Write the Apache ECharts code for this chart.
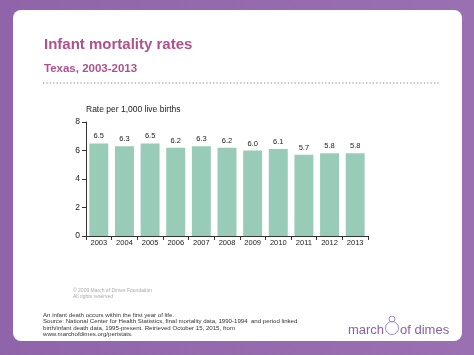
<!DOCTYPE html>
<html>
<head>
<meta charset="utf-8">
<script src="https://cdn.jsdelivr.net/npm/echarts@6/dist/echarts.min.js"></script>
<style>
html,body{margin:0;padding:0;background:#9568ad;}
#c{width:474px;height:355px;}
</style>
</head>
<body>
<div id="c"></div>
<script>
const years = ['2003','2004','2005','2006','2007','2008','2009','2010','2011','2012','2013'];
const rates = [6.5, 6.3, 6.5, 6.2, 6.3, 6.2, 6.0, 6.1, 5.7, 5.8, 5.8];
const yTicks = [0, 2, 4, 6, 8];
const titleText = 'Infant mortality rates';
const subtitleText = 'Texas, 2003-2013';
const axisName = 'Rate per 1,000 live births';
const footerLines = [
  'An infant death occurs within the first year of life.',
  'Source: National Center for Health Statistics, final mortality data, 1990-1994  and period linked',
  'birth/infant death data, 1995-present. Retrieved October 15, 2015, from',
  'www.marchofdimes.org/peristats.'
];

const chart = echarts.init(document.getElementById('c'), null, {renderer: 'canvas'});
const font = 'Liberation Sans, Arial, sans-serif';
const pink = '#b0508f';
const purple = '#8d5cab';

chart.setOption({
  backgroundColor: {
    type: 'linear', x: 0, y: 0, x2: 1, y2: 0,
    colorStops: [{offset: 0, color: '#9064a9'}, {offset: 1, color: '#9a70b2'}]
  },
  textStyle: {fontFamily: font},
  animation: false,
  graphic: [
    {type: 'rect', z: -10, shape: {x: 13, y: 10, width: 449, height: 331, r: 8}, style: {fill: '#ffffff'}},
    {type: 'text', left: 44, top: 37, style: {text: titleText, fill: pink, font: 'bold 15px ' + font}},
    {type: 'text', left: 44, top: 63, style: {text: subtitleText, fill: pink, font: 'bold 11.5px ' + font}},
    {type: 'line', shape: {x1: 43, y1: 83, x2: 439, y2: 83}, style: {stroke: '#b0b0b0', lineWidth: 1.3, lineDash: [1.3, 2.1]}},
    {type: 'text', left: 73, top: 288, style: {text: '\u00a9 2009 March of Dimes Foundation\nAll rights reserved', fill: '#aaaaaa', font: '5px ' + font, lineHeight: 5.5}},
    {type: 'text', left: 43, top: 312, style: {text: footerLines.join('\n'), fill: '#333333', font: '6.1px ' + font, lineHeight: 6.5}},
    {type: 'text', x: 384, y: 330, style: {text: 'march', fill: purple, font: '13px ' + font, align: 'right', verticalAlign: 'middle'}},
    {type: 'circle', shape: {cx: 392, cy: 328, r: 6.5}, style: {fill: 'none', stroke: '#a98bc2', lineWidth: 1}},
    {type: 'circle', shape: {cx: 392, cy: 319, r: 3}, style: {fill: 'none', stroke: '#a98bc2', lineWidth: 1}},
    {type: 'text', x: 400, y: 330, style: {text: 'of dimes', fill: purple, font: '13px ' + font, align: 'left', verticalAlign: 'middle'}}
  ],
  grid: {left: 86, right: 106, top: 122, bottom: 119, containLabel: false},
  xAxis: {
    type: 'category',
    data: years,
    axisLine: {lineStyle: {color: '#333333', width: 1}},
    axisTick: {show: true, length: 4, lineStyle: {color: '#333333'}},
    axisLabel: {color: '#222222', fontSize: 7.5, margin: 3}
  },
  yAxis: {
    type: 'value',
    min: yTicks[0], max: yTicks[yTicks.length - 1], interval: 2,
    name: axisName,
    nameLocation: 'end',
    nameGap: 8,
    nameTextStyle: {color: '#222222', fontSize: 8.5, align: 'left'},
    axisLine: {show: true, lineStyle: {color: '#333333', width: 1}},
    axisTick: {show: true, length: 4, lineStyle: {color: '#333333'}},
    axisLabel: {color: '#222222', fontSize: 8.5, margin: 6},
    splitLine: {show: false}
  },
  series: [{
    type: 'bar',
    data: rates,
    barCategoryGap: '26%',
    itemStyle: {color: '#98ccb8'},
    label: {show: true, position: 'top', distance: 3, color: '#222222', fontSize: 7.5,
      formatter: p => p.value.toFixed(1)}
  }]
});
</script>
</body>
</html>
